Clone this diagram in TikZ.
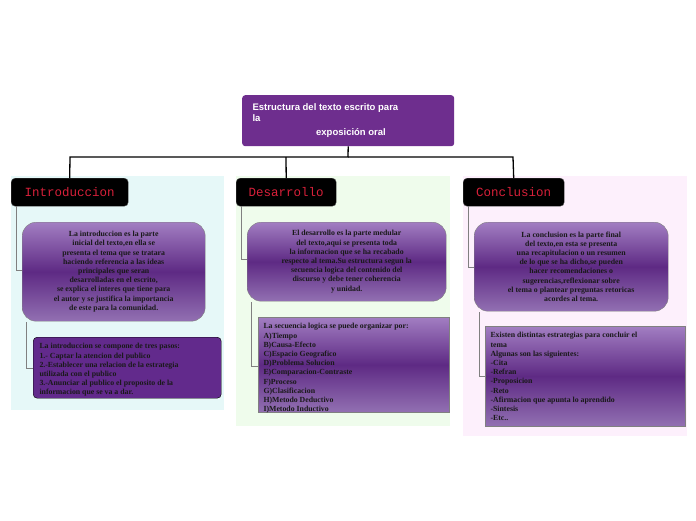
\documentclass[tikz,border=0pt]{standalone}
\usepackage{fontspec}
\setmainfont{Liberation Serif}
\newfontfamily\monof{Liberation Mono}
\newfontfamily\sansf{Liberation Sans}
\definecolor{gtop}{HTML}{A27EC2}
\definecolor{gmid}{HTML}{5E2A84}
\definecolor{gbot}{HTML}{9270B2}
\definecolor{titlec}{HTML}{6E2E8E}
\definecolor{boxc}{HTML}{622A8C}
\definecolor{hred}{HTML}{D8203A}
\definecolor{pcyan}{HTML}{E6F8F8}
\definecolor{pgreen}{HTML}{EFFCEC}
\definecolor{ppink}{HTML}{FDF0FC}
\begin{document}
\begin{tikzpicture}[x=1pt,y=-1pt,
  hdr/.style={fill=black,rounded corners=4pt,draw=black!70,font=\monof\fontsize{12.5}{14}\selectfont,text=hred,inner sep=0pt,anchor=north west},
  gbox/.style={top color=gtop,bottom color=gbot,middle color=gmid,draw=gray,rounded corners=#1,inner sep=0pt},
  txt/.style={font=\bfseries\fontsize{7.8}{9.2}\selectfont,text=black!90,align=center},
  ltxt/.style={font=\bfseries\fontsize{7.8}{9.2}\selectfont,text=black!90,align=left,anchor=north west},
  conn/.style={draw=gray,line width=0.6pt},
  main/.style={draw=black,line width=1.3pt}]
\useasboundingbox (0,0) rectangle (696,520);
\fill[white] (0,0) rectangle (696,520);
\fill[pcyan] (11,176) rectangle (224,410);
\fill[pgreen] (236,176) rectangle (450,426);
\fill[ppink] (463,176) rectangle (687,436);
% title
\node[fill=titlec,rounded corners=3pt,minimum width=212pt,minimum height=51pt,anchor=north west] (t) at (242,95) {};
\node[anchor=north west,text=white,font=\sansf\bfseries\fontsize{9.5}{11.5}\selectfont,align=left] at (249,100) {Estructura del texto escrito para\\la};
\node[text=white,font=\sansf\bfseries\fontsize{9.5}{11.5}\selectfont] at (351,133) {exposición oral};
% headers
\node[hdr,minimum width=117pt,minimum height=28pt] (h1) at (11,178) {Introduccion};
\node[hdr,minimum width=100pt,minimum height=28pt] (h2) at (236,178) {Desarrollo};
\node[hdr,minimum width=101pt,minimum height=28pt] (h3) at (463,178) {Conclusion};
\coordinate (j) at (348,157);
\draw[main] (t.south) -- (j) -- (70,157) -- (h1.north);
\draw[main] (j) -- (513,157) -- (h3.north);
\draw[main] (286,157) -- (h2.north);
% intro
\node[gbox=14pt,minimum width=183pt,minimum height=99pt,anchor=north west] (i1) at (22,222) {};
\node[txt] at (i1.center) {La introduccion es la parte\\inicial del texto,en ella se\\presenta el tema que se tratara\\haciendo referencia a las ideas\\principales que seran\\desarrolladas en el escrito,\\se explica el interes que tiene para\\el autor y se justifica la importancia\\de este para la comunidad.};
\node[fill=boxc,draw=black,rounded corners=4pt,minimum width=188pt,minimum height=61pt,anchor=north west] (i2) at (33,337) {};
\node[ltxt] at (36,340) {La introduccion se compone de tres pasos:\\1.- Captar la atencion del publico\\2.-Establecer una relacion de la estrategia\\utilizada con el publico\\3.-Anunciar al publico el proposito de la\\informacion que se va a dar.};
\draw[conn] (16,206) -- (16,270) -- (i1.west|-0,270);
\draw[conn] (26,322) -- (26,368) -- (i2.west|-0,368);
% desarrollo
\node[gbox=14pt,minimum width=199pt,minimum height=79pt,anchor=north west] (d1) at (247,222) {};
\node[txt] at (d1.center) {El desarrollo es la parte medular\\del texto,aqui se presenta toda\\la informacion que se ha recabado\\respecto al tema.Su estructura segun la\\secuencia logica del contenido del\\discurso y debe tener coherencia\\y unidad.};
\node[gbox=0pt,minimum width=191pt,minimum height=95pt,anchor=north west] (d2) at (258,317) {};
\node[ltxt] at (260,320) {La secuencia logica se puede organizar por:\\A)Tiempo\\B)Causa-Efecto\\C)Espacio Geografico\\D)Problema Solucion\\E)Comparacion-Contraste\\F)Proceso\\G)Clasificacion\\H)Metodo Deductivo\\I)Metodo Inductivo};
\draw[conn] (241,206) -- (241,259) -- (d1.west|-0,259);
\draw[conn] (251,302) -- (251,366) -- (d2.west|-0,366);
% conclusion
\node[gbox=14pt,minimum width=194pt,minimum height=89pt,anchor=north west] (c1) at (474,222) {};
\node[txt] at (c1.center) {La conclusion es la parte final\\del texto,en esta se presenta\\una recapitulacion o un resumen\\de lo que se ha dicho,se pueden\\hacer recomendaciones o\\sugerencias,reflexionar sobre\\el tema o plantear preguntas retoricas\\acordes al tema.};
\node[gbox=0pt,minimum width=200pt,minimum height=100pt,anchor=north west] (c2) at (485,326) {};
\node[ltxt] at (487,329) {Existen distintas estrategias para concluir el\\tema\\Algunas son las siguientes:\\-Cita\\-Refran\\-Proposicion\\-Reto\\-Afirmacion que apunta lo aprendido\\-Sintesis\\-Etc..};
\draw[conn] (468,206) -- (468,267) -- (c1.west|-0,267);
\draw[conn] (479,312) -- (479,376) -- (c2.west|-0,376);
\end{tikzpicture}
\end{document}
